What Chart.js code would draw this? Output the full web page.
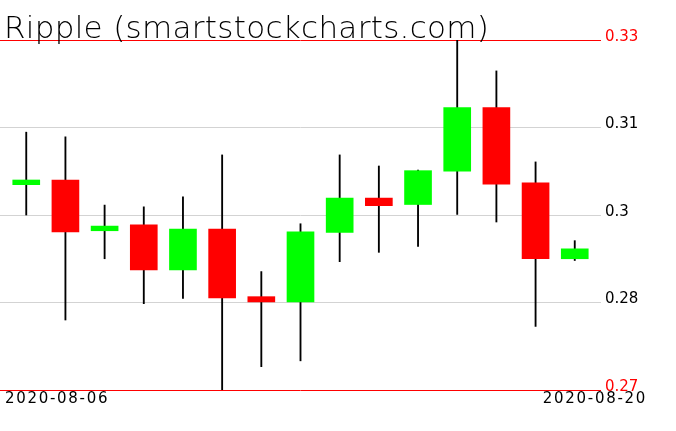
<!DOCTYPE html>
<html>
<head>
<meta charset="utf-8">
<script src="https://cdn.jsdelivr.net/npm/chart.js@4/dist/chart.umd.min.js"></script>
<style>
  html, body { margin: 0; padding: 0; background: #ffffff; }
  #wrap { width: 676px; height: 431px; position: relative; }
</style>
</head>
<body>
<div id="wrap"><canvas id="c" width="676" height="431"></canvas></div>
<script>
const titleText = 'Ripple (smartstockcharts.com)';
const dates = ['2020-08-06','2020-08-07','2020-08-08','2020-08-09','2020-08-10','2020-08-11','2020-08-12','2020-08-13','2020-08-14','2020-08-15','2020-08-16','2020-08-17','2020-08-18','2020-08-19','2020-08-20'];
const openV  = [0.3052, 0.3060, 0.2973, 0.2983, 0.2906, 0.2976, 0.2860, 0.2851, 0.2970, 0.3029, 0.3018, 0.3075, 0.3184, 0.3055, 0.2925];
const highV  = [0.3142, 0.3134, 0.3017, 0.3014, 0.3031, 0.3103, 0.2903, 0.2985, 0.3103, 0.3084, 0.3077, 0.3300, 0.3247, 0.3091, 0.2956];
const lowV   = [0.3000, 0.2820, 0.2925, 0.2848, 0.2857, 0.2700, 0.2740, 0.2750, 0.2920, 0.2936, 0.2946, 0.3001, 0.2988, 0.2809, 0.2922];
const closeV = [0.3060, 0.2971, 0.2981, 0.2906, 0.2976, 0.2858, 0.2851, 0.2971, 0.3029, 0.3016, 0.3076, 0.3184, 0.3053, 0.2925, 0.2942];
const tickValues = [0.27, 0.285, 0.30, 0.315, 0.33];
const tickLabels = ['0.27', '0.28', '0.3', '0.31', '0.33'];

const upColor = '#00ff00';
const downColor = '#ff0000';

const bodies = openV.map((o, i) => ({ x: i, y: [o, closeV[i]] }));
const wicks = lowV.map((l, i) => ({ x: i, y: [l, highV[i]] }));
const bodyColors = openV.map((o, i) => closeV[i] >= o ? upColor : downColor);

const overlay = {
  id: 'overlay',
  beforeDraw(chart) {
    const ctx = chart.ctx;
    ctx.save();
    ctx.fillStyle = '#ffffff';
    ctx.fillRect(0, 0, chart.width, chart.height);
    ctx.restore();
  },
  afterDraw(chart) {
    const ctx = chart.ctx;
    ctx.save();
    ctx.fillStyle = '#000000';
    ctx.textBaseline = 'alphabetic';
    ctx.font = '200 31px "DejaVu Sans"';
    ctx.textAlign = 'left';
    try { ctx.letterSpacing = '0.3px'; } catch (e) {}
    ctx.fillText(titleText, 4, 38);
    ctx.font = '15px "DejaVu Sans"';
    try { ctx.letterSpacing = '1.7px'; } catch (e) {}
    ctx.textAlign = 'left';
    ctx.fillText(dates[0], 5, 403);
    ctx.textAlign = 'right';
    ctx.fillText(dates[dates.length - 1], 647, 403);
    ctx.restore();
  }
};

new Chart(document.getElementById('c'), {
  type: 'bar',
  data: {
    datasets: [
      {
        label: 'body',
        data: bodies,
        backgroundColor: bodyColors,
        borderWidth: 0,
        borderSkipped: false,
        barThickness: 27,
        order: 0
      },
      {
        label: 'wick',
        data: wicks,
        backgroundColor: '#000000',
        borderWidth: 0,
        borderSkipped: false,
        barThickness: 1.2,
        order: 1
      }
    ]
  },
  plugins: [overlay],
  options: {
    responsive: false,
    animation: false,
    devicePixelRatio: 1,
    grouped: false,
    layout: { padding: { top: 40, bottom: 41, left: 0, right: 0 } },
    plugins: { legend: { display: false }, tooltip: { enabled: false }, title: { display: false } },
    scales: {
      x: {
        type: 'linear',
        offset: false,
        min: -0.67,
        max: 14.67,
        display: false
      },
      y: {
        position: 'right',
        min: 0.27,
        max: 0.33,
        afterBuildTicks(scale) { scale.ticks = tickValues.map(v => ({ value: v })); },
        afterFit(scale) { scale.width = 75; },
        border: { display: false },
        grid: {
          drawTicks: false,
          lineWidth: 1,
          color: (c) => (c.index === 0 || c.index === tickValues.length - 1) ? '#ff0000' : '#d3d3d3'
        },
        ticks: {
          padding: 4,
          labelOffset: -3,
          color: (c) => (c.index === 0 || c.index === tickValues.length - 1) ? '#ff0000' : '#000000',
          font: { family: 'DejaVu Sans', size: 15 },
          callback: (v, i) => tickLabels[i]
        }
      }
    }
  }
});
</script>
</body>
</html>
